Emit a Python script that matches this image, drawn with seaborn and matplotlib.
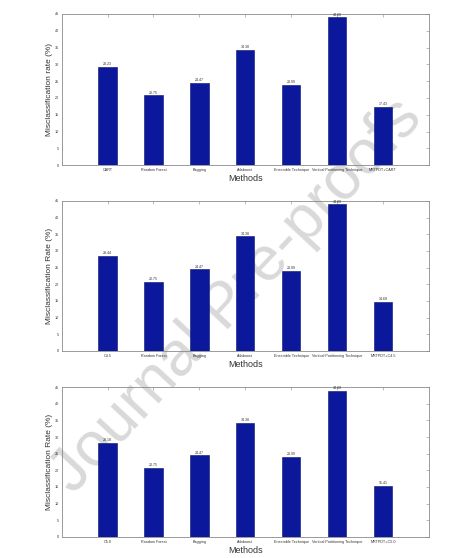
import matplotlib
matplotlib.use('Agg')
import numpy as np
import pandas as pd
import seaborn as sns
from matplotlib import pyplot as plt

# data
methods_cart = ['CART', 'Random Forest', 'Bagging', 'Adaboost', 'Ensemble Technique',
                'Vertical Partitioning Technique', 'MRTPDT+CART']
rates_cart = [29.23, 20.75, 24.47, 34.38, 23.99, 44.00, 17.43]

methods_c45 = ['C4.5', 'Random Forest', 'Bagging', 'Adaboost', 'Ensemble Technique',
               'Vertical Partitioning Technique', 'MRTPDT+C4.5']
rates_c45 = [28.44, 20.75, 24.47, 34.38, 23.99, 44.00, 14.68]

methods_c50 = ['C5.0', 'Random Forest', 'Bagging', 'Adaboost', 'Ensemble Technique',
               'Vertical Partitioning Technique', 'MRTPDT+C5.0']
rates_c50 = [28.18, 20.75, 24.47, 34.38, 23.99, 44.00, 15.41]

ylabels = ['Misclassification rate (%)', 'Misclassification Rate (%)', 'Misclassification Rate (%)']
yticks = list(range(0, 50, 5))

BAR_COLOR = '#0b189c'
SPINE_COLOR = '#8a8a8a'

sns.set_style('white')
plt.rcParams['font.family'] = ['Liberation Sans', 'DejaVu Sans']

fig = plt.figure(figsize=(4.74, 5.58), dpi=100)
positions = [[0.130, 0.704, 0.775, 0.271],
             [0.130, 0.371, 0.775, 0.269],
             [0.130, 0.038, 0.775, 0.268]]

panels = [(methods_cart, rates_cart), (methods_c45, rates_c45), (methods_c50, rates_c50)]

for pos, (methods, rates), ylab in zip(positions, panels, ylabels):
    ax = fig.add_axes(pos)
    ax.patch.set_alpha(0)
    df = pd.DataFrame({'method': methods, 'rate': rates})
    sns.barplot(data=df, x='method', y='rate', color=BAR_COLOR, width=0.4,
                saturation=1, edgecolor='#06106e', linewidth=0.4, ax=ax)
    for x, v in enumerate(rates):
        ax.annotate(f'{v:.2f}', xy=(x, v), xytext=(0, 0.5), textcoords='offset points',
                    ha='center', va='bottom', fontsize=2.6, color='#333333')
    ax.set_xlim(-1, 7)
    ax.set_ylim(0, 45)
    ax.set_yticks(yticks)
    ax.set_yticklabels([str(t) for t in yticks])
    ax.tick_params(axis='both', direction='in', top=True, right=True, length=2.5,
                   width=0.4, color=SPINE_COLOR, labelsize=2.7, labelcolor='#333333', pad=2)
    ax.set_xlabel('Methods', fontsize=6.5, color='#333333', labelpad=1.5)
    ax.set_ylabel(ylab, fontsize=6, color='#333333', labelpad=1)
    for s in ax.spines.values():
        s.set_visible(True)
        s.set_color(SPINE_COLOR)
        s.set_linewidth(0.6)

# watermark, behind the (transparent) axes
fig.text(0.50, 0.47, 'Journal Pre-proofs', fontsize=45, rotation=47,
         ha='center', va='center', color='#d9d9d9', zorder=-1)

fig.savefig('out.png', dpi=100)
